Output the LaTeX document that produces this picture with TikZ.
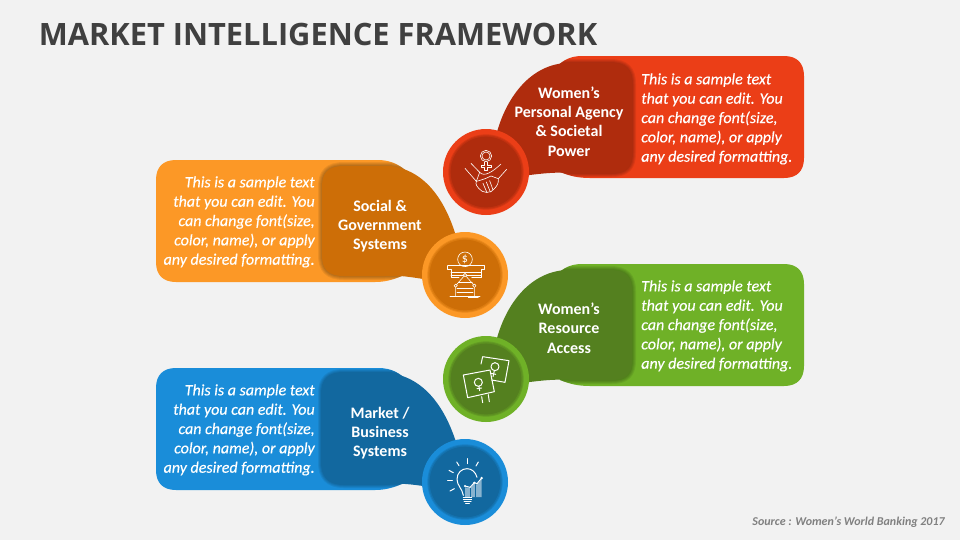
\documentclass[tikz,border=0pt]{standalone}
\usepackage{fontspec}
\setmainfont[ItalicFeatures={FakeBold=0.25}]{Carlito}
\newfontfamily\titlefont{Open Sans}
\definecolor{bgc}{HTML}{F2F2F2}
\definecolor{redL}{HTML}{EB3E17}\definecolor{redD}{HTML}{AF2C0D}
\definecolor{orgL}{HTML}{FC9826}\definecolor{orgD}{HTML}{CD6E07}
\definecolor{grnL}{HTML}{6FB127}\definecolor{grnD}{HTML}{54801F}
\definecolor{bluL}{HTML}{1A8DD9}\definecolor{bluD}{HTML}{12689F}
\newcommand{\band}[4]{%
  \fill[#1] #3;
  \begin{scope}\clip #3;
    \foreach \w in {6,4.5,3,1.5}{\draw[black,opacity=.07,line width=\w pt] #4;}
  \end{scope}
  \fill[#2] #4;}
\newcommand{\hub}[4]{% name, at, light, dark
  \node[hubdisc,fill=#3] (#1) at (#2) {};
  \node[hubdisc,minimum size=56.5pt,fill=#3!60!#4] at (#2) {};
  \node[hubdisc,minimum size=55pt,fill=#3!30!#4] at (#2) {};
  \node[hubdisc,minimum size=53pt,fill=#4] at (#2) {};}
\tikzset{
  hubdisc/.style={circle,minimum size=64.5pt,inner sep=0pt,outer sep=0pt},
  smp/.style={text=white,font=\fontsize{12}{14.5}\selectfont\itshape,inner sep=0pt},
  smpL/.style={smp,anchor=north west,align=left},
  smpR/.style={smp,anchor=north east,align=right},
  head/.style={text=white,font=\fontsize{12}{14.5}\selectfont\bfseries,align=center,inner sep=0pt},
  ico/.style={white,line width=.45pt,line cap=round,line join=round},
  icoB/.style={white,line width=.75pt,line cap=round,line join=round}
}
\begin{document}
\begin{tikzpicture}[x=.75pt,y=-.75pt]
\useasboundingbox (0,0) rectangle (960,540);
\fill[bgc] (0,0) rectangle (960,540);
\node[anchor=west,inner sep=0pt,text=black!75,font=\titlefont\fontsize{23.1}{28}\selectfont\bfseries] (title) at (38.5,34.5) {MARKET INTELLIGENCE FRAMEWORK};
\node[anchor=east,inner sep=0pt,text=black!50,font=\fontsize{9}{10}\selectfont\bfseries\itshape] (source) at (945,522) {Source : Women’s World Banking 2017};

% red band
\band{redL}{redD}
 {(552,72) .. controls (560,62) and (568,56) .. (582,56) -- (784,56) .. controls (797,56) and (804,63) .. (804,76) -- (804,158) .. controls (804,171) and (797,178) .. (784,178) -- (590,178) .. controls (578,178) and (570,176) .. (560,172) -- cycle}
 {(497,132) .. controls (506,100) and (528,66) .. (565,63) -- (610,63) .. controls (626,63) and (632,70) .. (632,84) -- (632,153) .. controls (632,167) and (626,173) .. (612,173) -- (575,173) .. controls (555,172) and (545,173) .. (522,176) -- cycle}
% orange band
\band{orgL}{orgD}
 {(412,176) .. controls (402,166) and (392,160) .. (378,160) -- (176,160) .. controls (163,160) and (156,167) .. (156,180) -- (156,262) .. controls (156,275) and (163,282) .. (176,282) -- (375,282) .. controls (385,282) and (392,280) .. (402,276) -- cycle}
 {(456,236) .. controls (445,200) and (425,170) .. (390,166) -- (344,166) .. controls (328,166) and (322,173) .. (322,187) -- (322,255) .. controls (322,269) and (328,276) .. (344,276) -- (385,276) .. controls (400,275) and (410,277) .. (430,280) -- cycle}
% green band
\band{grnL}{grnD}
 {(552,280) .. controls (560,270) and (568,264) .. (582,264) -- (784,264) .. controls (797,264) and (804,271) .. (804,284) -- (804,366) .. controls (804,379) and (797,386) .. (784,386) -- (590,386) .. controls (578,386) and (570,384) .. (560,380) -- cycle}
 {(497,338) .. controls (506,306) and (528,273) .. (565,270) -- (610,270) .. controls (626,270) and (632,277) .. (632,291) -- (632,360) .. controls (632,374) and (626,380) .. (612,380) -- (575,380) .. controls (555,379) and (545,380) .. (522,383) -- cycle}
% blue band
\band{bluL}{bluD}
 {(410,383) .. controls (400,373) and (392,368) .. (378,368) -- (176,368) .. controls (163,368) and (156,375) .. (156,388) -- (156,470) .. controls (156,483) and (163,490) .. (176,490) -- (375,490) .. controls (385,490) and (392,488) .. (402,484) -- cycle}
 {(456,442) .. controls (445,408) and (425,378) .. (390,373) -- (344,373) .. controls (328,373) and (322,380) .. (322,394) -- (322,462) .. controls (322,476) and (328,484) .. (344,484) -- (385,484) .. controls (400,483) and (410,484) .. (430,487) -- cycle}

\hub{hubR}{486,172}{redL}{redD}
\hub{hubO}{465,275}{orgL}{orgD}
\hub{hubG}{486,379}{grnL}{grnD}
\hub{hubB}{465,482}{bluL}{bluD}

% texts
\node[smpL] (txtR) at (641,73) {This is a sample text\\that you can edit. You\\can change font(size,\\color, name), or apply\\any desired formatting.};
\node[smpL] (txtG) at (641,280) {This is a sample text\\that you can edit. You\\can change font(size,\\color, name), or apply\\any desired formatting.};
\node[smpR] (txtO) at (315,176) {This is a sample text\\that you can edit. You\\can change font(size,\\color, name), or apply\\any desired formatting.};
\node[smpR] (txtB) at (315,384) {This is a sample text\\that you can edit. You\\can change font(size,\\color, name), or apply\\any desired formatting.};
\node[head] (hdR) at (569,121.5) {Women’s\\Personal Agency\\\& Societal\\Power};
\node[head] (hdO) at (380,226) {Social \&\\Government\\Systems};
\node[head] (hdG) at (569,328) {Women’s\\Resource\\Access};
\node[head] (hdB) at (380,433) {Market /\\Business\\Systems};

% handshake icon
\begin{scope}[shift={(455,140)},x=.25pt,y=-.25pt,ico]
 \draw (93,48) circle (17);
 \draw (93,48) circle (12);
 \draw (88,66) -- (88,76) -- (78,76) -- (78,81) -- (88,81) -- (88,92) -- (98,92) -- (98,81) -- (108,81) -- (108,76) -- (98,76) -- (98,66);
 \draw (30,85) -- (64,124) .. controls (60,135) and (68,140) .. (72,146);
 \draw (48,70) -- (74,97) -- (64,124);
 \draw (74,97) .. controls (88,112) and (112,96) .. (138,72);
 \draw (155,88) -- (130,116) .. controls (132,130) and (124,140) .. (118,146);
 \draw (64,124) .. controls (80,120) and (92,116) .. (108,108) -- (130,116);
 \draw (72,146) .. controls (82,160) and (108,162) .. (118,146);
 \draw (84,130) -- (96,158); \draw (94,126) -- (106,156); \draw (104,122) -- (114,150);
\end{scope}
% bank icon
\begin{scope}[shift={(435,245)},x=.25pt,y=-.25pt,ico]
 \draw (90,43) circle (22);
 \node[white,inner sep=0pt,font=\fontsize{9}{9}\selectfont] (dollar) at (90,44) {\$};
 \draw (90,65) -- (90,62);
 \draw (38,62) -- (148,62) -- (148,72) -- (140,72) -- (140,97) -- (110,97);
 \draw (38,62) -- (38,72) -- (48,72) -- (48,97) -- (72,97);
 \draw (48,82) -- (140,82); \draw (48,90) -- (140,90);
 \draw (70,112) -- (112,112); \draw (66,130) -- (114,130); \draw (66,142) -- (114,142);
 \draw (90,90) -- (62,122) -- (62,155); \draw (90,90) -- (118,122) -- (118,155);
 \draw[fill=orgD] (90,90) circle (5); \draw[fill=orgD] (62,122) circle (5); \draw[fill=orgD] (118,122) circle (5);
 \draw (45,155) -- (135,155); \draw (100,158) -- (130,158);
\end{scope}
% placards icon
\begin{scope}[shift={(455,350)},x=.25pt,y=-.25pt,icoB]
 \draw (78,42) -- (83,20) -- (162,32) -- (150,97) -- (110,90);
 \draw (25,75) -- (105,60) -- (118,125) -- (38,143) -- cycle;
 \draw (120,50) circle (12); \draw (118,62) -- (114,80); \draw (108,70) -- (122,73);
 \draw (70,97) circle (12); \draw (72,109) -- (74,122); \draw (66,116) -- (80,114);
 \draw (80,140) -- (83,158); \draw (100,134) -- (103,155);
\end{scope}
% bulb icon
\begin{scope}[shift={(435,452)},x=.25pt,y=-.25pt,icoB]
 \fill[white,opacity=.5] (90,106) -- (104,108) -- (118,95) -- (126,98) -- (140,80) -- (140,135) -- (90,135) -- cycle;
 \draw[bluD,line width=.4pt] (105,108) -- (105,135) (121,95) -- (121,135);
 \draw (85,130) .. controls (82,110) and (66,100) .. (66,82) .. controls (66,62) and (80,50) .. (96,50) .. controls (110,50) and (122,60) .. (126,76);
 \draw (90,102) -- (105,106) -- (118,92) -- (126,95) -- (140,78);
 \fill[white] (90,102) circle (3.5) (118,92) circle (3.5) (140,78) circle (4);
 \draw (98,20) -- (98,35); \draw (65,30) -- (72,41); \draw (130,30) -- (123,42); \draw (42,55) -- (55,62); \draw (38,85) -- (52,85); \draw (45,117) -- (58,110);
 \draw (85,136) -- (110,136); \draw (85,142) -- (110,142); \draw (87,148) -- (108,148); \draw (92,155) -- (103,155);
\end{scope}
\end{tikzpicture}
\end{document}
